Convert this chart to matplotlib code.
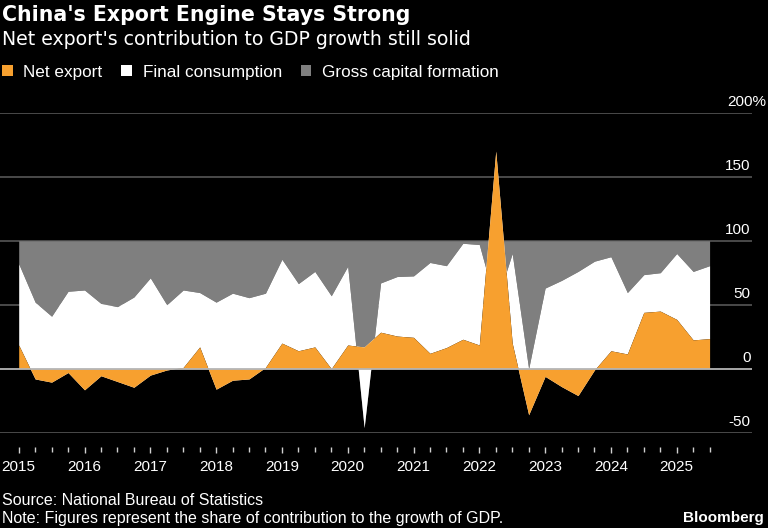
import numpy as np
import pandas as pd
import matplotlib
matplotlib.use("Agg")
import matplotlib.pyplot as plt
from matplotlib.patches import Patch
from matplotlib.transforms import offset_copy

# ------------------------------------------------------------
# Data: share of contribution to GDP growth (%), 2015Q1 - 2025Q3
# ------------------------------------------------------------

quarters = pd.period_range("2015Q1", "2025Q3", freq="Q")

net_export = [18.5, -8, -10.5, -3, -16.5, -5.5, -10, -14.5, -5, -1,
              1, 17, -16, -9, -8, 1, 20, 14, 17, 0,
              18.5, 17, 28.5, 25.5, 24.5, 12, 16.5, 23, 18.5, 170,
              20, -36, -6, -14, -21, -1, 14, 11.5, 44, 45,
              38.5, 22.5, 23.5]

final_consumption = [63.5, 60, 51.5, 63.5, 78, 56.5, 58.5, 70.5, 76, 51,
                     60.5, 42.5, 68, 68, 63.5, 58, 65.5, 52.5, 59, 57,
                     61.5, -63, 38.5, 46.5, 48, 71, 64, 75, 78.5, -120,
                     70, 36, 69, 83, 97, 85, 73.5, 48, 29.5, 30,
                     51.5, 53.5, 57]

capital_formation = [18, 48, 59, 39.5, 38.5, 49, 51.5, 44, 29, 50,
                     38.5, 40.5, 48, 41, 44.5, 41, 14.5, 33.5, 24, 43,
                     20, 146, 33, 28, 27.5, 17, 19.5, 2, 3, 50,
                     10, 100, 37, 31, 24, 16, 12.5, 40.5, 26.5, 25,
                     10, 24, 19.5]

series_names = ["Net export", "Final consumption", "Gross capital formation"]
y_ticks = [-50, 0, 50, 100, 150, 200]
year_ticks = list(range(2015, 2026))

# ------------------------------------------------------------
# Style
# ------------------------------------------------------------

BG = "black"
ORANGE = "#f7a02f"
WHITE = "#ffffff"
GRAY = "#7f7f7f"
GRID = "#4a4a4a"
TEXT = "#ffffff"

plt.rcParams["font.family"] = "Liberation Sans"

x = quarters.year + (quarters.quarter - 1) / 4.0
n = np.array(net_export, dtype=float)
c = np.array(final_consumption, dtype=float)
g = np.array(capital_formation, dtype=float)
s1 = n
s2 = n + c
s3 = n + c + g

fig = plt.figure(figsize=(7.68, 5.28), dpi=100, facecolor=BG)
ax = fig.add_axes([0.0, 1 - 432.7 / 528, 751.7 / 768, 320 / 528])
ax.set_facecolor(BG)

# stacked areas, net export drawn on top
ax.fill_between(x, s2, s3, color=GRAY, lw=0, zorder=2)
ax.fill_between(x, s1, s2, color=WHITE, lw=0, zorder=3)
ax.fill_between(x, 0, s1, color=ORANGE, lw=0, zorder=4)

# gridlines
for v in y_ticks:
    if v == 0:
        ax.axhline(v, color="#b5b5b5", lw=1.3, zorder=5)
    else:
        ax.axhline(v, color=GRID, lw=1.4, zorder=1)

ax.set_ylim(-50, 200)
ax.set_xlim(2015 - 18.7 / 65.8, 2015 + (751.7 - 18.7) / 65.8)

for side in ["top", "right", "left", "bottom"]:
    ax.spines[side].set_visible(False)
ax.set_yticks([])

ax.set_xticks(year_ticks)
ax.set_xticklabels([str(y) for y in year_ticks])
ax.set_xticks([v for v in x if v % 1 != 0], minor=True)
ax.tick_params(axis="x", which="both", bottom=False)
ax.tick_params(axis="x", which="major", labelcolor=TEXT, labelsize=11,
               pad=16.5)

# small quarter ticks below the plot, detached from the bottom gridline
ax.vlines(year_ticks, -61, -65.9, color="#d0d0d0", lw=1.0, clip_on=False)
ax.vlines([v for v in x if v % 1 != 0], -61.3, -64.9, color="#d0d0d0",
          lw=1.0, clip_on=False)

# right-hand value labels sitting above their gridlines
trans = offset_copy(ax.get_yaxis_transform(), fig=fig, y=5, units="points")
for v in y_ticks:
    if v == 200:
        ax.text(766 / 751.7, v, "200%", transform=trans, ha="right",
                va="baseline", color=TEXT, fontsize=11)
    else:
        ax.text(750.7 / 751.7, v, str(v), transform=trans, ha="right",
                va="baseline", color=TEXT, fontsize=11)

# ------------------------------------------------------------
# Titles, legend, footer
# ------------------------------------------------------------

fig.text(0.002, 1 - 21 / 528, "China's Export Engine Stays Strong",
         color=TEXT, fontsize=14.8, fontweight="bold", va="baseline",
         family="DejaVu Sans")
fig.text(0.002, 1 - 45 / 528, "Net export's contribution to GDP growth still solid",
         color=TEXT, fontsize=13.6, va="baseline", family="DejaVu Sans")

handles = [Patch(facecolor=col, edgecolor="none")
           for col in [ORANGE, WHITE, GRAY]]
fig.legend(handles, series_names, loc="center left",
           bbox_to_anchor=(0.003, 1 - 72 / 528), ncol=3, frameon=False,
           fontsize=12.3, labelcolor=TEXT, handlelength=0.62,
           handleheight=0.62, handletextpad=0.62, columnspacing=1.1,
           borderpad=0, borderaxespad=0)

fig.text(0.002, 1 - 505 / 528, "Source: National Bureau of Statistics",
         color=TEXT, fontsize=11.5, va="baseline")
fig.text(0.002, 1 - 523 / 528,
         "Note: Figures represent the share of contribution to the growth of GDP.",
         color=TEXT, fontsize=11.5, va="baseline")
fig.text(0.995, 1 - 522 / 528, "Bloomberg", color=TEXT, fontsize=11,
         fontweight="bold", ha="right", va="baseline")

fig.savefig("out.png", dpi=100, facecolor=BG)
